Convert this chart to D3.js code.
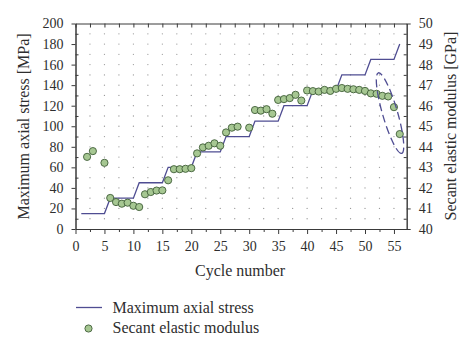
<!DOCTYPE html>
<html><head><meta charset="utf-8">
<script src="https://cdn.jsdelivr.net/npm/d3@7"></script>
<style>
html,body{margin:0;padding:0;background:#fff;}
svg text{font-family:"Liberation Serif","DejaVu Serif","Noto Serif",serif !important;}
</style></head>
<body>
<svg id="chart" width="474" height="349"></svg>
<script>
// ---- data ----
const stressCycles = [1,5,6,10,11,15,16,20,21,25,26,30,31,35,36,40,41,45,46,50,51,55,56];
const stressValues = [15,15,30,30,45,45,60,60,75,75,90,90,105,105,120,120,135,135,150,150,165,165,180];
const modCycles = [2,3,5,6,7,8,9,10,11,12,13,14,15,16,17,18,19,20,21,22,23,24,25,26,27,28,30,31,32,33,34,35,36,37,38,39,40,41,42,43,44,45,46,47,48,49,50,51,52,53,54,55,56];
const modValues = [43.51,43.79,43.22,41.51,41.31,41.23,41.28,41.13,41.07,41.69,41.8,41.87,41.88,42.37,42.91,42.91,42.93,42.96,43.68,43.97,44.05,44.17,44.05,44.70,44.93,44.98,44.93,45.79,45.76,45.83,45.61,46.28,46.32,46.37,46.53,46.25,46.74,46.71,46.69,46.77,46.72,46.82,46.86,46.82,46.8,46.77,46.72,46.6,46.58,46.48,46.45,45.93,44.62];
const xTicks = [0,5,10,15,20,25,30,35,40,45,50,55];
const yLeftTicks = [0,20,40,60,80,100,120,140,160,180,200];
const yRightTicks = [40,41,42,43,44,45,46,47,48,49,50];
const ellipseEnds = [[52.3,47.6],[56.34,43.68]]; // [cycle, GPa] of highlighted region
const labels = {x:"Cycle number", yl:"Maximum axial stress [MPa]", yr:"Secant elastic modulus [GPa]",
  l1:"Maximum axial stress", l2:"Secant elastic modulus"};

// ---- layout ----
const L=75.5, R=406.7, T=23.5, B=229;
const lineColor="#4f4d92", axisColor="#3a3a3a", textColor="#2e2e2e";
const font='"Liberation Serif","DejaVu Serif","Noto Serif",serif';
const svg=d3.select("#chart");
const x=d3.scaleLinear().domain([0,57.2]).range([L,R]);
const yL=d3.scaleLinear().domain([0,200]).range([B,T]);
const yR=d3.scaleLinear().domain([40,50]).range([B,T]);

// grid dots
const gx=d3.range(2.5,55.01,2.5), gy=d3.range(10,190.1,10);
const dots=[]; gx.forEach(a=>gy.forEach(b=>dots.push([a,b])));
svg.append("g").selectAll("circle").data(dots).join("circle")
  .attr("cx",d=>x(d[0])).attr("cy",d=>yL(d[1])).attr("r",0.65).attr("fill","#9a9a9a");

function styleAxis(g){
  g.attr("font-family",font).attr("font-size",14);
  g.select(".domain").attr("stroke",axisColor).attr("stroke-width",1);
  g.selectAll(".tick line").attr("stroke",axisColor).attr("stroke-width",1);
  g.selectAll(".tick text").attr("fill",textColor).attr("font-family",font).attr("font-size",14);
}
// bottom axis
const minorX=d3.range(2.5,57,5);
svg.append("g").attr("transform",`translate(0,${B})`)
  .call(d3.axisBottom(x).tickValues(minorX).tickSize(3).tickFormat("").tickSizeOuter(0))
  .call(styleAxis);
svg.append("g").attr("transform",`translate(0,${B})`)
  .call(d3.axisBottom(x).tickValues(xTicks).tickSize(5).tickPadding(7).tickSizeOuter(0))
  .call(styleAxis);
// top axis
svg.append("g").attr("transform",`translate(0,${T})`)
  .call(d3.axisBottom(x).tickValues(d3.range(0,57,2.5)).tickSize(4).tickFormat("").tickSizeOuter(0))
  .call(styleAxis);
// left axis
svg.append("g").attr("transform",`translate(${L},0)`)
  .call(d3.axisRight(yL).tickValues(d3.range(10,200,20)).tickSize(3).tickFormat("").tickSizeOuter(0))
  .call(styleAxis);
svg.append("g").attr("transform",`translate(${L},0)`)
  .call(d3.axisLeft(yL).tickValues(yLeftTicks).tickSize(4).tickPadding(8).tickSizeOuter(0))
  .call(styleAxis);
// right axis
svg.append("g").attr("transform",`translate(${R},0)`)
  .call(d3.axisLeft(yR).tickValues(d3.range(40.5,50,1)).tickSize(3).tickFormat("").tickSizeOuter(0))
  .call(styleAxis);
svg.append("g").attr("transform",`translate(${R},0)`)
  .call(d3.axisRight(yR).tickValues(yRightTicks).tickSize(4).tickPadding(8).tickSizeOuter(0))
  .call(styleAxis);

// stress line
svg.append("path").datum(stressCycles.map((c,i)=>[c,stressValues[i]]))
  .attr("fill","none").attr("stroke",lineColor).attr("stroke-width",1.3)
  .attr("d",d3.line().x(d=>x(d[0])).y(d=>yL(d[1])));

// modulus points
svg.append("g").selectAll("circle").data(modCycles.map((c,i)=>[c,modValues[i]])).join("circle")
  .attr("cx",d=>x(d[0])).attr("cy",d=>yR(d[1])).attr("r",3.6)
  .attr("fill","#a6c792").attr("stroke","#3f5e38").attr("stroke-width",0.9);

// ellipse annotation
{
  const [p,q]=ellipseEnds.map(e=>[x(e[0]),yR(e[1])]);
  const cx=(p[0]+q[0])/2, cy=(p[1]+q[1])/2;
  const len=Math.hypot(q[0]-p[0],q[1]-p[1])/2;
  const ang=Math.atan2(q[1]-p[1],q[0]-p[0])*180/Math.PI;
  svg.append("ellipse").attr("cx",0).attr("cy",0).attr("rx",len).attr("ry",7.5)
    .attr("transform",`translate(${cx},${cy}) rotate(${ang})`)
    .attr("fill","none").attr("stroke",lineColor).attr("stroke-width",1.3)
    .attr("stroke-dasharray","8,4");
}

// titles
function txt(sel){ return sel.attr("fill",textColor).attr("font-family",font).attr("font-size",16); }
txt(svg.append("text").attr("x",(L+R)/2-1).attr("y",276).attr("text-anchor","middle")).text(labels.x);
txt(svg.append("text").attr("transform",`translate(29,126.5) rotate(-90)`).attr("text-anchor","middle")).text(labels.yl);
txt(svg.append("text").attr("transform",`translate(456,126) rotate(-90)`).attr("text-anchor","middle")).text(labels.yr);

// legend
const lg=svg.append("g");
lg.append("line").attr("x1",76).attr("x2",102).attr("y1",307.5).attr("y2",307.5)
  .attr("stroke",lineColor).attr("stroke-width",1.3);
txt(lg.append("text").attr("x",112.5).attr("y",313)).text(labels.l1);
lg.append("circle").attr("cx",88.5).attr("cy",328.5).attr("r",3.6)
  .attr("fill","#a6c792").attr("stroke","#3f5e38").attr("stroke-width",0.9);
txt(lg.append("text").attr("x",112.5).attr("y",333)).text(labels.l2);
</script>
</body></html>
